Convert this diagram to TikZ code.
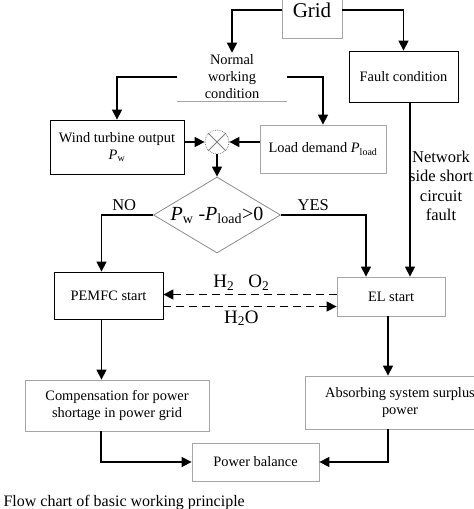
\documentclass[tikz,border=0pt]{standalone}
\usepackage{fontspec}
\setmainfont{Liberation Serif}
\usetikzlibrary{arrows.meta, shapes.geometric, calc}

\begin{document}
\begin{tikzpicture}[
    x = 1pt, y = -1pt,
    font = \fontsize{14.4}{17}\selectfont,
    box/.style = {draw, line width = 0.8pt, inner sep = 2pt, align = center},
    faintbox/.style = {box, draw = black!35},
    arr/.style = {line width = 1.3pt, -{Triangle[length = 10pt, width = 10pt]}},
    gasarr/.style = {arr, dash pattern = on 8pt off 5pt},
    lbl/.style = {font = \fontsize{16.5}{18}\selectfont},
    gaslbl/.style = {font = \fontsize{19}{21}\selectfont}
  ]
  \useasboundingbox (0,0) rectangle (474,509);

  % Boxes
  \node[faintbox, minimum width = 60, minimum height = 56,
        font = \fontsize{21}{24}\selectfont] (grid) at (312, 10) {Grid};
  \node[align = center, minimum width = 109, inner sep = 2pt]
        (normal) at (232, 77) {Normal\\working\\condition};
  \draw[black!35, line width = 0.8pt] (normal.south west) -- (normal.south east);
  \node[box, minimum width = 134, minimum height = 54]
        (wind) at (117, 147) {Wind turbine output\\\textit{P}\textsubscript{w}};
  \node[faintbox, minimum width = 126, minimum height = 48]
        (load) at (323, 149) {Load demand \textit{P}\textsubscript{load}};
  \node[circle, draw = black!50, densely dotted, line width = 0.8pt,
        minimum size = 24, inner sep = 0pt] (sum) at (217, 142) {};
  \draw[black!50, line width = 0.8pt]
        (sum.north west) -- (sum.south east) (sum.north east) -- (sum.south west);
  \node[diamond, draw = black!45, line width = 0.8pt, shape aspect = 1.67,
        minimum width = 127, minimum height = 76, inner sep = 0pt,
        font = \fontsize{20}{22}\selectfont]
        (dia) at (217, 215) {\textit{P}\textsubscript{w} -\textit{P}\textsubscript{load}>0};
  \node[box, minimum width = 109, minimum height = 51]
        (fault) at (403.5, 76.5) {Fault condition};
  \node[box, minimum width = 109, minimum height = 47]
        (pemfc) at (108.5, 295.5) {PEMFC start};
  \node[faintbox, minimum width = 108, minimum height = 39]
        (el) at (391, 296.5) {EL start};
  \node[faintbox, minimum width = 184, minimum height = 51]
        (comp) at (117, 405.5) {Compensation for power\\shortage in power grid};
  \node[faintbox, minimum width = 190, minimum height = 53]
        (absorb) at (400, 402.5) {Absorbing system surplus\\power};
  \node[faintbox, minimum width = 127, minimum height = 38]
        (bal) at (255.5, 462) {Power balance};
  \node[align = center, font = \fontsize{16.5}{19.5}\selectfont]
        (netlbl) at (441, 186) {Network\\side short\\circuit\\fault};

  % Connectors
  \draw[arr] (grid.west) -| (normal.north);
  \draw[arr] (grid.east) -| (fault.north);
  \draw[arr] (normal.west) -| (wind.north);
  \draw[arr] (normal.east) -| (load.north);
  \draw[arr] (sum -| wind.east) -- (sum.west);
  \draw[arr] (sum -| load.west) -- (sum.east);
  \draw[arr] (sum.south) -- (dia.north);
  \draw[arr] (dia.west) -| ([xshift = -7pt]pemfc.north)
        node[pos = 0.28, above, lbl] {NO};
  \draw[arr] (dia.east) -| ([xshift = -25pt]el.north)
        node[pos = 0.19, above, lbl] {YES};
  \draw[arr] ([xshift = 6.5pt]fault.south) -- ([xshift = 6.5pt]fault.south |- el.north);

  % Gas exchange
  \draw[gasarr] ([yshift = 2pt]el.west) -- ([yshift = 2pt]el.west -| pemfc.east)
        node[pos = 0.55, above, gaslbl] {H\textsubscript{2}\enspace\ O\textsubscript{2}};
  \draw[gasarr] ([yshift = -11pt]pemfc.east) -- ([yshift = -11pt]pemfc.east -| el.west)
        node[pos = 0.45, below, gaslbl] {H\textsubscript{2}O};

  \draw[arr] ([xshift = -7pt]pemfc.south) -- ([xshift = -7pt]pemfc.south |- comp.north);
  \draw[arr] ([xshift = -3pt]el.south) -- ([xshift = -3pt]el.south |- absorb.north);
  \draw[arr] ([xshift = -16pt]comp.south) |- (bal.west);
  \draw[arr] ([xshift = -12pt]absorb.south) |- (bal.east);

  \node[anchor = base west, font = \fontsize{16}{18}\selectfont]
        (caption) at (0, 506) {Flow chart of basic working principle};
\end{tikzpicture}
\end{document}
